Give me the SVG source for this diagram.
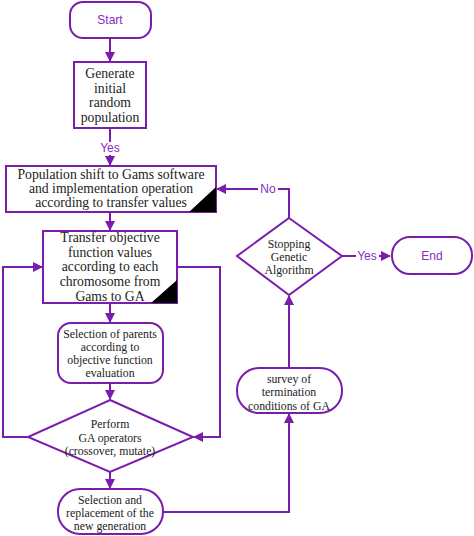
<svg xmlns="http://www.w3.org/2000/svg" width="474" height="536" viewBox="0 0 474 536">
<style>
.s{fill:#fff;stroke:#7a1cac;stroke-width:2}
.c{fill:none;stroke:#7a1cac;stroke-width:2}
.t{font-family:"Liberation Serif",serif;font-size:13.7px;fill:#222;text-anchor:middle}
.ts{font-family:"Liberation Serif",serif;font-size:11.8px;fill:#222;text-anchor:middle}
.p{font-family:"Liberation Sans",sans-serif;font-size:12px;fill:#8a2bc2;text-anchor:middle}
.k{fill:#000}
</style>
<defs>
<marker id="a" viewBox="0 0 10 10" refX="9" refY="5" markerWidth="5" markerHeight="5" orient="auto" markerUnits="strokeWidth">
<path d="M0,0 L10,5 L0,10 z" fill="#7a1cac"/>
</marker>
</defs>
<g id="connectors">
<path class="c" d="M110,38 V61" marker-end="url(#a)"/>
<path class="c" d="M110,128 V142 M110,155 V165" marker-end="url(#a)"/>
<path class="c" d="M110,212 V230" marker-end="url(#a)"/>
<path class="c" d="M110,303 V322" marker-end="url(#a)"/>
<path class="c" d="M110,383 V399" marker-end="url(#a)"/>
<path class="c" d="M110,472 V488" marker-end="url(#a)"/>
<path class="c" d="M28,437 H3 V267 H42" marker-end="url(#a)"/>
<path class="c" d="M177,267 H220 V437 H194" marker-end="url(#a)"/>
<path class="c" d="M163,512 H289 V414" marker-end="url(#a)"/>
<path class="c" d="M289,368 V296" marker-end="url(#a)"/>
<path class="c" d="M289,218 V189 H278 M258,189 H217" marker-end="url(#a)"/>
<path class="c" d="M342,256 H356 M379,256 H390" marker-end="url(#a)"/>
<text class="p" x="110" y="152">Yes</text>
<text class="p" x="268" y="193">No</text>
<text class="p" x="367" y="260">Yes</text>
</g>
<g id="start">
<rect class="s" x="70" y="2" width="81" height="36" rx="13"/>
<text class="p" x="110" y="24">Start</text>
</g>
<g id="generate">
<rect class="s" x="74" y="62" width="72" height="66"/>
<text class="t" x="110" y="78">Generate</text>
<text class="t" x="110" y="93">initial</text>
<text class="t" x="110" y="107">random</text>
<text class="t" x="110" y="122">population</text>
</g>
<g id="population">
<rect class="s" x="6" y="166" width="210" height="46"/>
<polygon class="k" points="189,212 216,212 216,187"/>
<text class="t" x="111" y="179">Population shift to Gams software</text>
<text class="t" x="111" y="193">and implementation operation</text>
<text class="t" x="111" y="207">according to transfer values</text>
</g>
<g id="transfer">
<rect class="s" x="43" y="231" width="134" height="72"/>
<polygon class="k" points="151,303 177,303 177,280"/>
<text class="t" x="110" y="242">Transfer objective</text>
<text class="t" x="110" y="257">function values</text>
<text class="t" x="110" y="271">according to each</text>
<text class="t" x="110" y="286">chromosome from</text>
<text class="t" x="110" y="301">Gams to GA</text>
</g>
<g id="parents">
<rect class="s" x="58" y="323" width="105" height="60" rx="13"/>
<text class="ts" x="110" y="338">Selection of parents</text>
<text class="ts" x="110" y="351">according to</text>
<text class="ts" x="110" y="364">objective function</text>
<text class="ts" x="110" y="377">evaluation</text>
</g>
<g id="operators">
<polygon class="s" points="110,400 193,437 110,472 28,437"/>
<text class="ts" x="110" y="428">Perform</text>
<text class="ts" x="110" y="442">GA operators</text>
<text class="ts" x="110" y="455">(crossover, mutate)</text>
</g>
<g id="replacement">
<rect class="s" x="58" y="489" width="105" height="45" rx="22"/>
<text class="ts" x="110" y="504">Selection and</text>
<text class="ts" x="110" y="517">replacement of the</text>
<text class="ts" x="110" y="530">new generation</text>
</g>
<g id="survey">
<rect class="s" x="237" y="368" width="105" height="45" rx="22"/>
<text class="ts" x="289" y="383">survey of</text>
<text class="ts" x="289" y="396">termination</text>
<text class="ts" x="289" y="410">conditions of GA</text>
</g>
<g id="stopping">
<polygon class="s" points="289,218 342,256 289,295 237,256"/>
<text class="ts" x="289" y="248">Stopping</text>
<text class="ts" x="289" y="261">Genetic</text>
<text class="ts" x="289" y="274">Algorithm</text>
</g>
<g id="end">
<rect class="s" x="392" y="237" width="80" height="37" rx="18"/>
<text class="p" x="432" y="260">End</text>
</g>
</svg>
